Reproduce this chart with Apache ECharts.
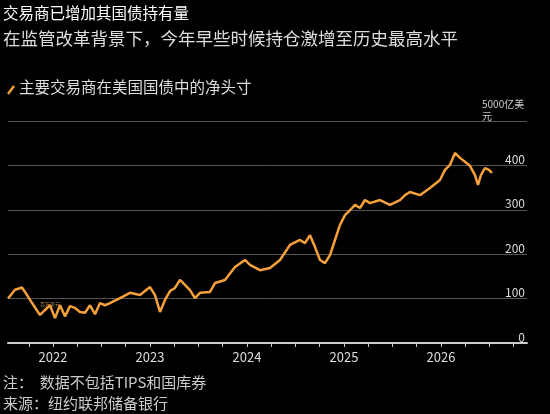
<!DOCTYPE html><html><head><meta charset="utf-8"><script src="https://cdn.jsdelivr.net/npm/echarts@6/dist/echarts.min.js"></script>
<style>html,body{margin:0;background:#000}#c{width:550px;height:414px}</style></head><body><div id="c"></div><script>
const xPix=[8,15,22,25,30,35,40,42,50,55,60,65,70,75,80,85,90,95,100,105,110,120,130,140,150,155,160,165,170,175,180,185,190,195,200,210,215,225,235,245,250,260,270,280,290,300,305,310,315,320,325,330,335,340,345,350,355,360,365,370,380,390,400,405,410,420,430,440,445,450,455,460,465,470,475,478,481,485,489,492];
const values=[100,120,125,115,97,80,63,68,85,56,85,60,83,79,70,68,85,65,90,85,90,101,113,108,126,108,70,97,117,124,142,131,119,101,113,115,135,142,171,187,176,164,169,187,221,232,225,243,216,187,180,198,232,266,288,299,311,304,322,315,322,311,322,333,340,333,349,367,390,401,428,417,408,399,378,356,378,394,390,383];
const years=xPix.map(x=>2022+(x-53)/97);
const yearLabels=[2022,2023,2024,2025,2026];
const data=years.map((y,i)=>[y,values[i]]);
const ticks=[];for(let t=2021.75;t<2026.9;t+=0.25)ticks.push(t);
const c=echarts.init(document.getElementById('c'));
const F='"Noto Sans CJK SC"';
c.setOption({backgroundColor:'#000',animation:false,
grid:{left:8,right:23,top:121,bottom:71},
xAxis:{type:'value',min:2021.536,max:2026.887,splitLine:{show:false},
axisLine:{lineStyle:{color:'#ccc',width:2}},
axisTick:{customValues:ticks,length:4,lineStyle:{color:'#ccc'}},
axisLabel:{customValues:yearLabels,formatter:v=>String(Math.round(v)),color:'#ddd',fontSize:13,fontFamily:F,margin:8}},
yAxis:{type:'value',min:0,max:500,interval:100,position:'right',
splitLine:{lineStyle:{color:'#555',width:1}},axisLine:{show:false},axisTick:{show:false},
axisLabel:{inside:true,verticalAlign:'bottom',align:'right',margin:2,color:'#ddd',fontSize:12,fontFamily:F,formatter:v=>v==500?'':v}},
series:[{type:'line',data:data,showSymbol:false,lineStyle:{color:'#f5a03a',width:2.5},z:3}],
graphic:[
{type:'text',left:3,top:5,style:{text:'交易商已增加其国债持有量',fill:'#fff',font:'15.5px '+F}},
{type:'text',left:3,top:30,style:{text:'在监管改革背景下，今年早些时候持仓激增至历史最高水平',fill:'#ddd',font:'17.5px '+F}},
{type:'line',shape:{x1:8,y1:94,x2:14,y2:86},style:{stroke:'#f5a03a',lineWidth:2.5}},
{type:'text',left:19,top:79,style:{text:'主要交易商在美国国债中的净头寸',fill:'#ddd',font:'15.5px '+F}},
{type:'text',left:482,top:98,style:{text:'5000亿美\n元',fill:'#ccc',font:'10px '+F,lineHeight:12}},
{type:'text',left:40,top:302,style:{text:'百万美元',fill:'#b98a4a',font:'5px '+F}},
{type:'text',left:3,top:375,style:{text:'注：  数据不包括TIPS和国库券',fill:'#ccc',font:'15px '+F}},
{type:'text',left:3,top:396,style:{text:'来源：纽约联邦储备银行',fill:'#ccc',font:'15px '+F}}
]});
</script></body></html>
